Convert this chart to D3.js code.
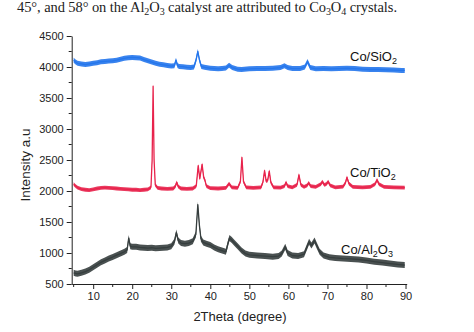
<!DOCTYPE html>
<html>
<head>
<meta charset="utf-8">
<script src="https://cdn.jsdelivr.net/npm/d3@7"></script>
<style>
  html, body { margin: 0; padding: 0; background: #fff; }
  svg { display: block; }
</style>
</head>
<body>
<svg id="chart" width="474" height="332"></svg>
<script>
// XRD patterns (2θ in degrees, intensity in a.u.)
const sio2 = [
  [5.0,4110],[5.5,4080],[6,4060],[7,4050],[8,4040],[9,4050],[10,4060],[11,4070],[12,4085],
  [13,4090],[14,4095],[15,4100],[16,4110],[17,4125],[18,4140],[19,4150],[20,4155],[21,4150],
  [22,4145],[23,4120],[24,4100],[25,4080],[26,4060],[27,4045],[28,4035],[29,4025],[30,4015],
  [30.8,4020],[31.2,4110],[31.6,4025],[32,4010],[33,4005],[34,3995],[35,3990],[35.8,4000],
  [36.3,4100],[36.8,4250],[37.2,4120],[37.7,4010],[38.5,3995],[40,3980],[41,3975],[42,3970],
  [43,3975],[44,3985],[44.8,4030],[45.6,3990],[47,3965],[48,3960],[50,3970],[52,3975],
  [54,3975],[56,3978],[58,3990],[59,4020],[59.8,3990],[61,3975],[63,3975],[64.2,4000],
  [64.9,4090],[65.6,3990],[67,3970],[69,3975],[71,3970],[73,3975],[75,3980],[77,3975],
  [79,3965],[81,3960],[83,3960],[85,3955],[87,3950],[89,3945],[89.8,3945]
];

const tio2 = [
  [5,2110],[5.5,2080],[6,2055],[7,2030],[8,2020],[9,2015],[10,2025],[11,2040],[12,2050],
  [13,2055],[14,2050],[15,2045],[16,2040],[17,2035],[18,2030],[19,2025],[20,2020],[21,2020],
  [22,2015],[23,2020],[24,2025],[24.8,2060],[25.1,2500],[25.35,3690],[25.6,2500],[25.9,2100],
  [26.5,2050],[27.5,2040],[29,2035],[30.5,2040],[31.0,2070],[31.4,2140],[31.8,2070],
  [32.5,2040],[34,2035],[35.5,2040],[36.4,2080],[36.9,2410],[37.3,2200],[37.9,2430],
  [38.3,2220],[38.6,2180],[39.0,2080],[40,2045],[42,2040],[44,2050],[44.8,2120],[45.5,2060],
  [47,2050],[47.7,2150],[48.1,2540],[48.5,2150],[49.2,2060],[51,2050],[53.0,2060],
  [53.5,2150],[53.9,2330],[54.3,2160],[54.7,2170],[55.1,2320],[55.5,2140],[56.2,2060],
  [58,2055],[59.0,2080],[59.4,2140],[59.8,2080],[61,2060],[62.2,2100],[62.7,2260],
  [63.2,2100],[64,2065],[64.8,2090],[65.2,2130],[65.7,2080],[67,2065],[68.3,2110],
  [68.7,2150],[69.2,2100],[69.7,2110],[70.2,2150],[70.7,2090],[72,2060],[74,2070],
  [74.6,2130],[75.0,2220],[75.5,2120],[76.5,2065],[79,2060],[81,2065],[82.2,2110],
  [82.7,2180],[83.2,2110],[84.5,2065],[87,2060],[89.8,2055]
];

const al2o3 = [
  [5.0,680],[5.5,670],[6,665],[7,680],[8,700],[9,730],[10,770],[11,810],[12,850],[13,880],
  [14,910],[15,935],[16,965],[17,990],[18,1020],[18.7,1050],[19.1,1240],[19.5,1110],
  [20,1100],[21,1100],[22,1090],[23,1085],[24,1080],[25,1085],[26,1075],[27,1080],
  [28,1085],[29,1090],[30,1110],[30.8,1180],[31.3,1330],[31.8,1200],[32.5,1160],
  [33.5,1150],[34.5,1160],[35.5,1190],[36.3,1300],[36.8,1780],[37.2,1450],[37.6,1230],
  [38.2,1170],[39,1150],[40,1130],[41,1090],[42,1060],[43,1040],[44,1020],[44.5,1150],
  [44.9,1240],[45.5,1210],[46.2,1160],[47,1110],[48,1040],[49,990],[50,970],[52,960],
  [54,950],[56,940],[57.5,950],[58.3,990],[59.2,1100],[59.8,1000],[61,960],[62.5,950],
  [64,980],[64.7,1090],[65.3,1180],[65.9,1120],[66.7,1200],[67.2,1130],[68,1020],[69,960],
  [70.5,930],[72,920],[74,910],[76,905],[78,895],[80,880],[82,860],[84,845],[86,830],
  [88,815],[89.8,805]
];

const xTicks = [10, 20, 30, 40, 50, 60, 70, 80, 90];
const xMinorTicks = [5, 15, 25, 35, 45, 55, 65, 75, 85];
const yTicks = [500, 1000, 1500, 2000, 2500, 3000, 3500, 4000, 4500];
const yMinorTicks = [750, 1250, 1750, 2250, 2750, 3250, 3750, 4250];

const svg = d3.select("#chart");
const sansFont = "'Liberation Sans', Arial, sans-serif";

const x = d3.scaleLinear().domain([4.5, 90.3]).range([71.7, 406.7]);
const y = d3.scaleLinear().domain([500, 4500]).range([284, 36]);

// caption line above the figure, with sub-scripted formulae
const cap = svg.append("text")
  .attr("x", 17).attr("y", 11.5)
  .attr("font-family", "'Liberation Serif', 'DejaVu Serif', serif")
  .attr("font-size", 14.5)
  .attr("fill", "#222")
  .attr("textLength", 380)
  .attr("lengthAdjust", "spacing");
const capParts = [
  ["45°, and 58° on the Al", false], ["2", true], ["O", false], ["3", true],
  [" catalyst are attributed to Co", false], ["3", true], ["O", false], ["4", true],
  [" crystals.", false]
];
let capShift = 0;
capParts.forEach(([t, sub]) => {
  const want = sub ? 3 : 0;
  const ts = cap.append("tspan").attr("dy", want - capShift).text(t);
  if (sub) ts.attr("font-size", 10);
  capShift = want;
});

// series: a noisy band plus a thin trace on top
const series = [
  { data: al2o3, color: "#363e3e", band: 3.0 },
  { data: tio2,  color: "#e8234c", band: 1.9 },
  { data: sio2,  color: "#2476ec", band: 2.5 }
];

series.forEach(s => {
  const area = d3.area()
    .x(d => x(d[0]))
    .y0(d => y(d[1]) + s.band)
    .y1(d => y(d[1]) - s.band);
  svg.append("path")
    .attr("d", area(s.data))
    .attr("fill", s.color)
    .attr("opacity", 0.9);
  const line = d3.line().x(d => x(d[0])).y(d => y(d[1]));
  svg.append("path")
    .attr("d", line(s.data))
    .attr("fill", "none")
    .attr("stroke", s.color)
    .attr("stroke-width", 1.3)
    .attr("stroke-linejoin", "round");
});

// axes
const axisColor = "#222";
const gx = svg.append("g").attr("transform", `translate(0,${y(500)})`)
  .call(d3.axisBottom(x).tickValues(xTicks).tickFormat(d3.format("d"))
    .tickSize(5).tickSizeOuter(0).tickPadding(3));
gx.append("g").selectAll("line").data(xMinorTicks).join("line")
  .attr("x1", d => x(d)).attr("x2", d => x(d))
  .attr("y1", 0).attr("y2", 3)
  .attr("stroke", axisColor);

const gy = svg.append("g").attr("transform", `translate(${x(4.5)},0)`)
  .call(d3.axisLeft(y).tickValues(yTicks).tickFormat(d3.format("d"))
    .tickSize(5).tickSizeOuter(0).tickPadding(3));
gy.append("g").selectAll("line").data(yMinorTicks).join("line")
  .attr("x1", 0).attr("x2", -3)
  .attr("y1", d => y(d)).attr("y2", d => y(d))
  .attr("stroke", axisColor);

[gx, gy].forEach(g => {
  g.select(".domain").attr("stroke", axisColor).attr("stroke-width", 1);
  g.selectAll(".tick line").attr("stroke", axisColor);
  g.selectAll(".tick text")
    .attr("font-family", sansFont).attr("font-size", 11).attr("fill", "#222");
});

// axis titles
svg.append("text")
  .attr("x", 240).attr("y", 320.5)
  .attr("text-anchor", "middle")
  .attr("font-family", sansFont).attr("font-size", 13).attr("fill", "#222")
  .text("2Theta (degree)");

svg.append("text")
  .attr("transform", "translate(29.5,165) rotate(-90)")
  .attr("text-anchor", "middle")
  .attr("font-family", sansFont).attr("font-size", 13.5).attr("fill", "#222")
  .text("Intensity a.u");

// sample labels
function sampleLabel(px, py, parts) {
  const t = svg.append("text")
    .attr("x", px).attr("y", py)
    .attr("font-family", sansFont).attr("font-size", 13).attr("fill", "#111");
  let shift = 0;
  parts.forEach(([txt, sub]) => {
    const want = sub ? 3 : 0;
    const ts = t.append("tspan").attr("dy", want - shift).text(txt);
    if (sub) ts.attr("font-size", 9);
    shift = want;
  });
}
sampleLabel(350, 61, [["Co/SiO", false], ["2", true]]);
sampleLabel(350, 177, [["Co/TiO", false], ["2", true]]);
sampleLabel(341, 254, [["Co/Al", false], ["2", true], ["O", false], ["3", true]]);
</script>
</body>
</html>
